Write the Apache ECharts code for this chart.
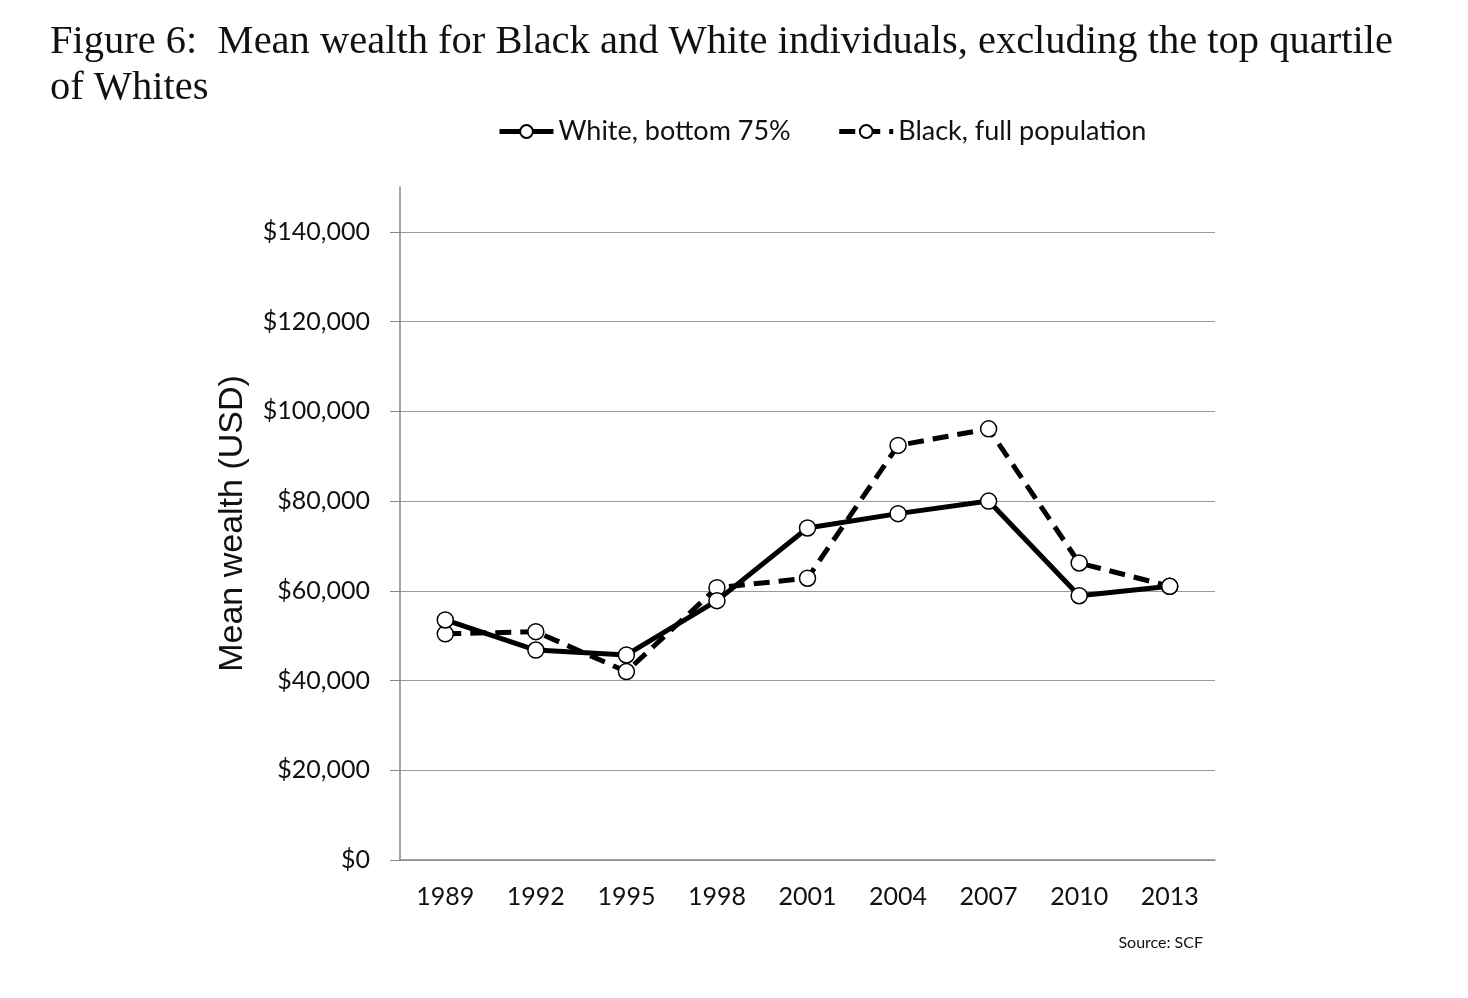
<!DOCTYPE html>
<html>
<head>
<meta charset="utf-8">
<script src="https://cdn.jsdelivr.net/npm/echarts@6/dist/echarts.min.js"></script>
<style>
  html, body { margin: 0; padding: 0; background: #fff; }
  #chart { width: 1468px; height: 998px; }
</style>
</head>
<body>
<div id="chart"></div>
<script>
const years = ['1989', '1992', '1995', '1998', '2001', '2004', '2007', '2010', '2013']
const whiteBottom75 = [53500, 46800, 45700, 57800, 74000, 77200, 80000, 58900, 61000]
const blackFull = [50400, 50900, 42000, 60700, 62800, 92400, 96100, 66200, 61000]
const yTicks = [0, 20000, 40000, 60000, 80000, 100000, 120000, 140000]

const labelFont = 'Lato, "Open Sans", sans-serif'
const money = (v) => '$' + v.toLocaleString('en-US')

const chart = echarts.init(document.getElementById('chart'))
chart.setOption({
  backgroundColor: '#fff',
  animation: false,
  title: {
    text: 'Figure 6:  Mean wealth for Black and White individuals, excluding the top quartile\nof Whites',
    left: 45,
    top: 14,
    textStyle: {
      fontFamily: '"Liberation Serif", serif',
      fontWeight: 'normal',
      fontSize: 40.5,
      lineHeight: 46,
      color: '#111',
    },
  },
  legend: {
    top: 113,
    left: 492,
    itemWidth: 54,
    itemHeight: 16,
    itemGap: 46,
    textStyle: { fontFamily: labelFont, fontSize: 27, color: '#111' },
    lineStyle: { width: 5 },
    data: ['White, bottom 75%', 'Black, full population'],
  },
  grid: { left: 400, right: 253, top: 187, bottom: 138 },
  xAxis: {
    type: 'category',
    data: years,
    boundaryGap: true,
    axisLine: { lineStyle: { color: '#888', width: 1.5 } },
    axisTick: { alignWithLabel: true, inside: true, length: 7, lineStyle: { color: '#888' } },
    axisLabel: { margin: 24, fontFamily: labelFont, fontSize: 25, color: '#111' },
  },
  yAxis: {
    type: 'value',
    min: 0,
    max: 150000,
    interval: 20000,
    name: 'Mean wealth (USD)',
    nameLocation: 'middle',
    nameGap: 150,
    nameTextStyle: { fontFamily: '"Liberation Sans", Arial, sans-serif', fontSize: 34, color: '#111' },
    axisLine: { show: true, lineStyle: { color: '#888', width: 1.5 } },
    axisTick: { show: true, length: 10, lineStyle: { color: '#888' }, customValues: yTicks },
    axisLabel: {
      margin: 30,
      customValues: yTicks,
      fontFamily: labelFont,
      fontSize: 25,
      color: '#111',
      formatter: money,
    },
    splitLine: { show: true, lineStyle: { color: '#999', width: 1.2 } },
  },
  series: [
    {
      name: 'Black, full population',
      type: 'line',
      data: blackFull,
      symbol: 'circle',
      symbolSize: 16,
      itemStyle: { color: '#fff', borderColor: '#000', borderWidth: 1.5 },
      lineStyle: { color: '#000', width: 5, type: [16, 9] },
      z: 2,
    },
    {
      name: 'White, bottom 75%',
      type: 'line',
      data: whiteBottom75,
      symbol: 'circle',
      symbolSize: 16,
      itemStyle: { color: '#fff', borderColor: '#000', borderWidth: 1.5 },
      lineStyle: { color: '#000', width: 5 },
      z: 3,
    },
  ],
  graphic: [
    {
      type: 'text',
      right: 265,
      top: 935,
      style: { text: 'Source: SCF', fontFamily: labelFont, fontSize: 16, fill: '#111' },
    },
  ],
})
</script>
</body>
</html>
